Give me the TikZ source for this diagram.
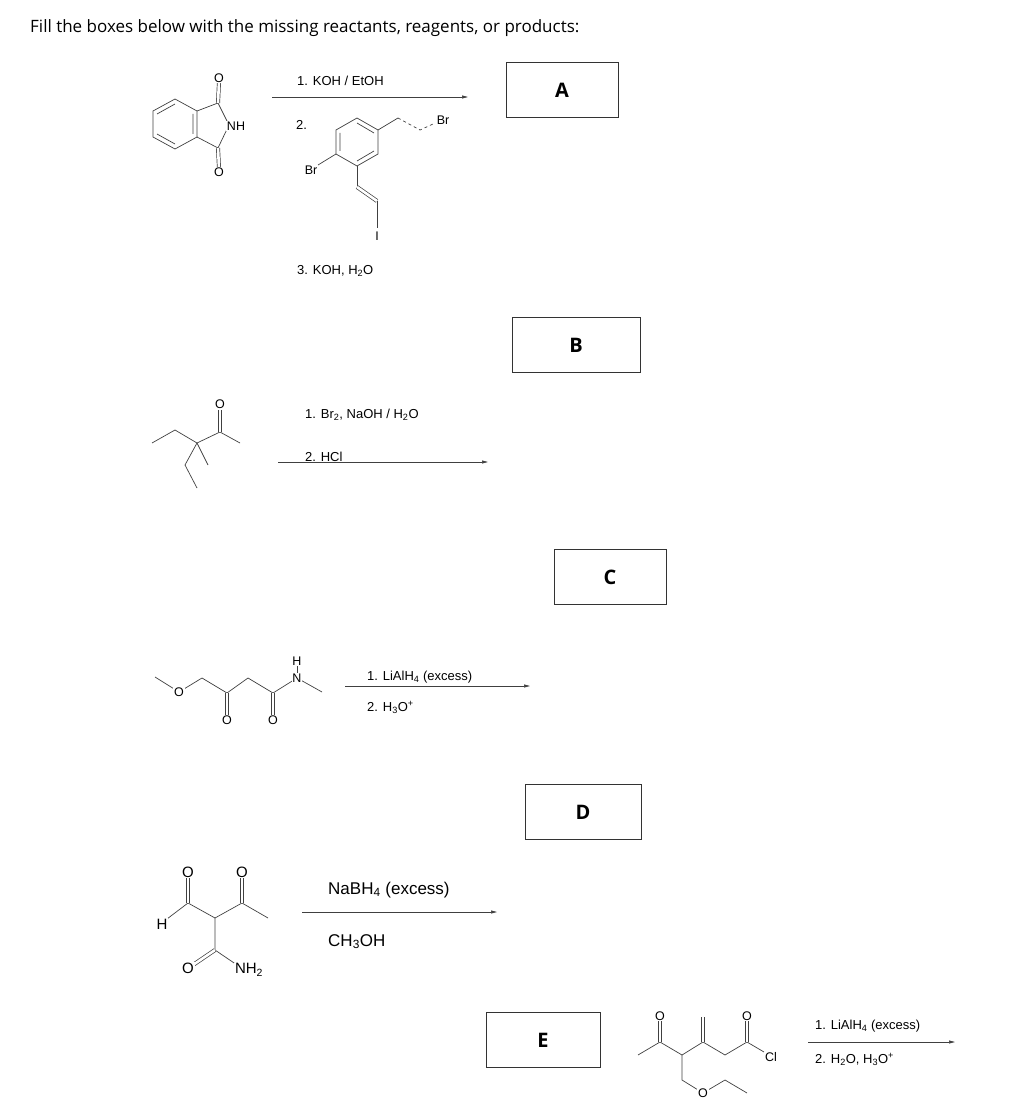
\documentclass[tikz,border=0pt]{standalone}
\usepackage{fontspec}
\setmainfont{Liberation Sans}
\newfontfamily\titlefont{Open Sans}
\usetikzlibrary{arrows.meta,calc}
\begin{document}
\begin{tikzpicture}[x=1pt,y=-1pt,
  bond/.style={line width=0.7pt,draw=black!75},
  dbl/.style={bond,double=white,double distance=2.6pt},
  atom/.style={fill=white,inner sep=0.8pt,font=\fontsize{12.5}{14}\selectfont},
  rxn/.style={line width=0.7pt,draw=black!75,-{Triangle[length=6pt,width=3pt]}},
  cond/.style={anchor=base west,inner sep=0pt,font=\fontsize{13}{15}\selectfont},
  ansbox/.style={draw=black!80,line width=0.8pt,minimum width=112pt,minimum height=55pt,font=\titlefont\bfseries\fontsize{20}{22}\selectfont}]
\useasboundingbox (0,0) rectangle (1020,1110);
\node[anchor=base west,inner sep=0pt,font=\titlefont\fontsize{17}{20}\selectfont] (title) at (30,33) {Fill the boxes below with the missing reactants, reagents, or products:};
% boxes
\node[ansbox] (A) at (562,90) {A};
\node[ansbox,minimum width=128pt] (B) at (576,345) {B};
\node[ansbox] (C) at (610,577) {C};
\node[ansbox,minimum width=116pt] (D) at (583,812) {D};
\node[ansbox,minimum width=114pt] (E) at (543,1040) {E};
% ---- reaction 1: phthalimide
\draw[bond] (197,111)--(175,99)--(153,111)--(153,137)--(175,149)--(197,137)--cycle;
\draw[bond] (175,104)--(157,114) (157,134)--(175,144) (193,114)--(193,134);
\draw[bond] (197,111)--(218,103)--(229,125) (197,137)--(218,148)--(229,125);
\draw[dbl] (218,103)--(219,82);
\draw[dbl] (218,148)--(219,168);
\node[atom] (o1) at (219,78) {O};
\node[atom] (o2) at (219,172) {O};
\node[atom] (nh) at (236,126) {NH};
\draw[rxn] (272,97)--(468,97);
\node[cond] (r1a) at (297,86) {1. KOH / EtOH};
\node[cond] (r1b) at (296,130) {2.};
\draw[bond] (357,118)--(378,130)--(378,154)--(357,166)--(336,154)--(336,130)--cycle;
\draw[bond] (357,123)--(374,133) (374,151)--(357,161) (340,151)--(340,133);
\draw[bond] (378,130)--(398,118);
\draw[bond,dashed] (398,118)--(420,130)--(433,124);
\draw[bond] (336,154)--(318,165);
\draw[bond] (357,166)--(357,187);
\draw[dbl] (357,187)--(377,201);
\draw[bond] (377,201)--(377,228);
\node[atom] (br1) at (443,120) {Br};
\node[atom] (br2) at (311,170) {Br};
\node[atom] (io) at (377,236) {I};
\node[cond] (r1c) at (297,274) {3. KOH, H\textsubscript{2}O};
% ---- reaction 2
\draw[bond] (152,443)--(175,430)--(197,443)--(220,432)--(240,443);
\draw[dbl] (220,432)--(220,410);
\node[atom] (o3) at (220,404) {O};
\draw[bond] (197,443)--(208,465) (197,443)--(185,465)--(197,488);
\draw[rxn] (278,462)--(488,462);
\node[cond] (r2a) at (305,418) {1. Br\textsubscript{2}, NaOH / H\textsubscript{2}O};
\node[cond] (r2b) at (305,461) {2. HCl};
% ---- reaction 3
\draw[bond] (155,677)--(179,692)--(202,678)--(227,693)--(248,678)--(273,693)--(297,678)--(322,692);
\draw[dbl] (227,693)--(227,716);
\draw[dbl] (273,693)--(273,716);
\draw[bond] (297,678)--(297,665);
\node[atom] (o4) at (179,692) {O};
\node[atom] (o5) at (227,720) {O};
\node[atom] (o6) at (273,720) {O};
\node[atom] (n1) at (297,678) {N};
\node[atom] (h1) at (297,661) {H};
\draw[rxn] (345,686)--(530,686);
\node[cond] (r3a) at (367,680) {1. LiAlH\textsubscript{4} (excess)};
\node[cond] (r3b) at (367,711) {2. H\textsubscript{3}O\textsuperscript{+}};
% ---- reaction 4
\draw[bond] (163,922)--(188,903)--(215,918)--(242,903)--(268,918);
\draw[dbl] (188,903)--(188,877);
\draw[dbl] (242,903)--(242,877);
\draw[bond] (215,918)--(215,950)--(240,967);
\draw[dbl] (215,950)--(190,967);
\node[atom,font=\fontsize{15}{17}\selectfont] (o7) at (188,872) {O};
\node[atom,font=\fontsize{15}{17}\selectfont] (o8) at (242,872) {O};
\node[atom,font=\fontsize{15}{17}\selectfont] (h2) at (162,924) {H};
\node[atom,font=\fontsize{15}{17}\selectfont] (o9) at (188,968) {O};
\node[atom,font=\fontsize{15}{17}\selectfont,anchor=west] (nh2) at (234,970) {NH\textsubscript{2}};
\draw[rxn] (302,912)--(497,912);
\node[cond,font=\fontsize{17}{19}\selectfont] (r4a) at (328,894) {NaBH\textsubscript{4} (excess)};
\node[cond,font=\fontsize{17}{19}\selectfont] (r4b) at (328,946) {CH\textsubscript{3}OH};
% ---- reaction 5
\draw[bond] (638,1055)--(660,1042)--(682,1055)--(703,1042)--(725,1055)--(747,1042)--(764,1052);
\draw[dbl] (660,1042)--(660,1021);
\draw[dbl] (703,1042)--(703,1017);
\draw[dbl] (747,1042)--(747,1021);
\draw[bond] (682,1055)--(682,1080)--(703,1093)--(725,1080)--(747,1093);
\node[atom] (o10) at (660,1016) {O};
\node[atom] (o11) at (747,1016) {O};
\node[atom] (o12) at (703,1093) {O};
\node[atom] (cl) at (771,1057) {Cl};
\draw[rxn] (808,1042)--(955,1042);
\node[cond] (r5a) at (815,1029) {1. LiAlH\textsubscript{4} (excess)};
\node[cond] (r5b) at (815,1063) {2. H\textsubscript{2}O, H\textsubscript{3}O\textsuperscript{+}};
\end{tikzpicture}
\end{document}
